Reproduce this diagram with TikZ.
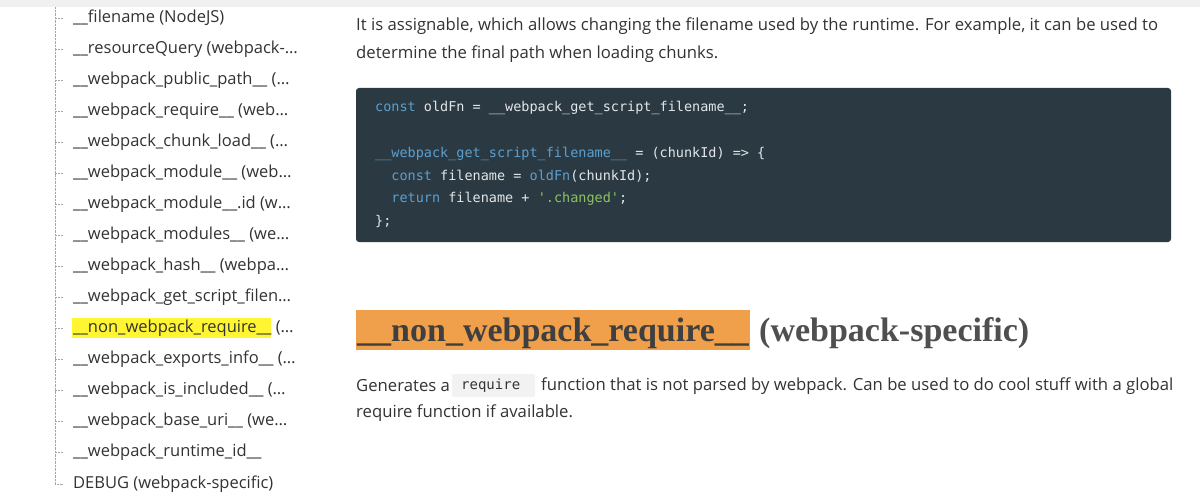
\documentclass[tikz,border=0pt]{standalone}
\usepackage{fontspec}
\setmainfont{Open Sans}
\newfontfamily\headfont{Liberation Serif}
\setmonofont{DejaVu Sans Mono}
\definecolor{codebg}{HTML}{2B3A42}
\definecolor{kw}{HTML}{5B9FD0}
\definecolor{ctext}{HTML}{E3E6E8}
\definecolor{cstr}{HTML}{8CC265}
\definecolor{txt}{HTML}{333333}
\definecolor{head}{HTML}{4F4F4F}
\definecolor{hl}{HTML}{F0A04B}
\begin{document}
\begin{tikzpicture}[x=1pt,y=-1pt,
  side/.style={anchor=west,inner sep=0pt,font=\fontsize{16.5}{18}\selectfont,text=txt},
  body/.style={anchor=west,inner sep=0pt,font=\fontsize{16.7}{20}\selectfont,text=txt},
  code/.style={anchor=west,inner sep=0pt,font=\ttfamily\fontsize{13.5}{16}\selectfont,text=ctext}]
\useasboundingbox (0,0) rectangle (1200,495);
\fill[white] (0,0) rectangle (1200,495);
\fill[gray!12] (0,0) rectangle (1200,7);
% sidebar tree
\draw[gray!70,densely dotted] (55,7) -- (55,484) -- (63,484);
\foreach \i in {0,...,14} \draw[gray!70,densely dotted] (55,18+31*\i) -- (63,18+31*\i);
\fill[yellow!80] (72,318) rectangle (271,338);
\node[side] (s1) at (73,18) {\_\_filename (NodeJS)};
\node[side] (s2) at (73,49) {\_\_resourceQuery (webpack-…};
\node[side] (s3) at (73,80) {\_\_webpack\_public\_path\_\_ (…};
\node[side] (s4) at (73,111) {\_\_webpack\_require\_\_ (web…};
\node[side] (s5) at (73,142) {\_\_webpack\_chunk\_load\_\_ (…};
\node[side] (s6) at (73,173) {\_\_webpack\_module\_\_ (web…};
\node[side] (s7) at (73,204) {\_\_webpack\_module\_\_.id (w…};
\node[side] (s8) at (73,235) {\_\_webpack\_modules\_\_ (we…};
\node[side] (s9) at (73,266) {\_\_webpack\_hash\_\_ (webpa…};
\node[side] (s10) at (73,297) {\_\_webpack\_get\_script\_filen…};
\node[side] (s11) at (73,328) {\_\_non\_webpack\_require\_\_ (…};
\node[side] (s12) at (73,359) {\_\_webpack\_exports\_info\_\_ (…};
\node[side] (s13) at (73,390) {\_\_webpack\_is\_included\_\_ (…};
\node[side] (s14) at (73,421) {\_\_webpack\_base\_uri\_\_ (we…};
\node[side] (s15) at (73,452) {\_\_webpack\_runtime\_id\_\_};
\node[side] (s16) at (73,484) {DEBUG (webpack-specific)};
% body text
\node[body] (p1) at (356,26) {It is assignable, which allows changing the filename used by the runtime. For example, it can be used to};
\node[body] (p2) at (356,54) {determine the final path when loading chunks.};
% code block
\fill[codebg,rounded corners=3pt] (356,88) rectangle (1171,242);
\node[code] (c1) at (375,108) {\textcolor{kw}{const} oldFn = \_\_webpack\_get\_script\_filename\_\_;};
\node[code] (c2) at (375,154) {\textcolor{kw}{\_\_webpack\_get\_script\_filename\_\_} = (chunkId) => \{};
\node[code] (c3) at (375,176) {\ \ \textcolor{kw}{const} filename = \textcolor{kw}{oldFn}(chunkId);};
\node[code] (c4) at (375,199) {\ \ \textcolor{kw}{return} filename + \textcolor{cstr}{'.changed'};};
\node[code] (c5) at (375,221) {\};};
% heading
\fill[hl] (356,310) rectangle (750,350);
\node[anchor=base west,inner sep=0pt,font=\headfont\bfseries\fontsize{34}{38}\selectfont,text=head!80!black] (h1) at (357,341) {\_\_non\_webpack\_require\_\_};
\node[anchor=base west,inner sep=0pt,font=\headfont\bfseries\fontsize{34}{38}\selectfont,text=head] (h2) at (759,341) {(webpack-specific)};
% paragraph
\fill[gray!10,rounded corners=2pt] (452,374) rectangle (535,397);
\node[body] (q1) at (356,386) {Generates a};
\node[anchor=west,inner sep=0pt,font=\ttfamily\fontsize{14}{16}\selectfont,text=txt] (q0) at (461,386) {require};
\node[body] (q3) at (541,386) {function that is not parsed by webpack. Can be used to do cool stuff with a global};
\node[body] (q2) at (356,413) {require function if available.};
\end{tikzpicture}
\end{document}
